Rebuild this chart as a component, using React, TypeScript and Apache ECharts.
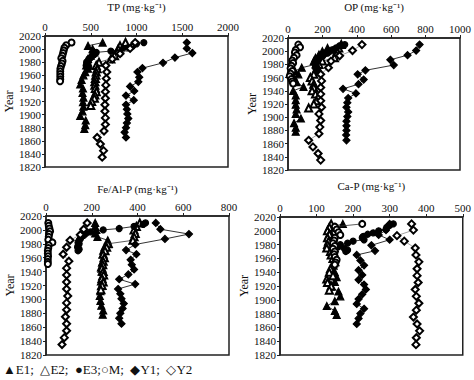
import React, { useEffect, useRef } from "react";
import * as echarts from "echarts";

// Sampling years per core
const yearsE1 = [2010, 2005, 2000, 1995, 1990, 1985, 1980, 1975, 1970, 1965, 1960, 1953, 1946, 1940, 1933, 1926, 1919, 1912, 1905, 1898, 1891, 1884, 1878];
const yearsE2 = [2010, 2005, 2000, 1995, 1990, 1985, 1980, 1975, 1970, 1965, 1960, 1955, 1950, 1945, 1940, 1935, 1930, 1925, 1920, 1914];
const yearsE3 = [2010, 2008, 2005, 2002, 2000, 1997, 1995, 1992, 1990, 1987, 1985, 1982, 1980, 1977, 1975, 1972, 1970];
const yearsM = [2010, 2006, 2002, 1998, 1994, 1990, 1986, 1982, 1978, 1974, 1970, 1966, 1962, 1958, 1954, 1951];
const yearsY1 = [2010, 2001, 1994, 1987, 1979, 1971, 1965, 1957, 1950, 1943, 1936, 1929, 1922, 1915, 1908, 1901, 1894, 1887, 1880, 1873, 1865];
const yearsY2 = [2010, 2001, 1993, 1985, 1975, 1965, 1955, 1945, 1935, 1925, 1915, 1905, 1895, 1885, 1875, 1865, 1855, 1845, 1835];

// TP
const tpE1 = [630, 470, 520, 540, 500, 470, 460, 450, 470, 440, 420, 400, 385, 415, 410, 420, 415, 420, 410, 385, 445, 440, 430];
const tpE2 = [880, 820, 800, 790, 760, 720, 590, 560, 570, 560, 555, 550, 545, 545, 550, 560, 545, 540, 510, 500];
const tpE3 = [1080, 1000, 960, 900, 850, 720, 560, 540, 520, 500, 480, 470, 455, 470, 450, 480, 460];
const tpM = [290, 232, 212, 205, 198, 190, 178, 192, 185, 175, 168, 167, 167, 167, 167, 165];
const tpY1 = [1550, 1550, 1610, 1420, 1290, 1065, 1010, 1030, 1020, 930, 975, 885, 970, 885, 895, 900, 910, 895, 885, 870, 885];
const tpY2 = [985, 930, 820, 735, 665, 675, 670, 665, 660, 660, 655, 655, 660, 660, 645, 570, 605, 640, 625];

// OP
const opE1 = [310, 230, 200, 180, 160, 150, 160, 80, 40, 60, 35, 50, 90, 30, 45, 45, 45, 50, 45, 75, 35, 45, 45];
const opE2 = [310, 295, 285, 280, 270, 200, 180, 170, 165, 150, 130, 140, 150, 150, 140, 160, 175, 165, 150, 120];
const opE3 = [330, 300, 280, 260, 245, 230, 210, 200, 185, 175, 170, 165, 160, 165, 160, 170, 175];
const opM = [60, 70, 45, 40, 50, 35, 25, 30, 20, 15, 25, 15, 10, 20, 25, 30];
const opY1 = [765, 745, 695, 595, 615, 450, 405, 440, 410, 320, 395, 350, 345, 340, 350, 345, 340, 340, 340, 338, 340];
const opY2 = [430, 375, 300, 250, 235, 190, 195, 190, 190, 190, 195, 180, 190, 185, 180, 120, 145, 175, 190];

// Fe/Al-P
const feE1 = [215, 215, 220, 215, 225, 270, 275, 255, 250, 248, 252, 245, 240, 243, 245, 240, 240, 238, 235, 238, 242, 250, 248];
const feE2 = [410, 395, 385, 390, 385, 380, 270, 265, 258, 250, 255, 250, 248, 245, 250, 252, 245, 250, 245, 240];
const feE3 = [435, 425, 385, 320, 250, 195, 175, 165, 155, 150, 145, 140, 145, 140, 138, 145, 140];
const feM = [10, 12, 15, 18, 14, 12, 10, 28, 12, 10, 8, 8, 9, 8, 8, 8];
const feY1 = [480, 500, 625, 520, 390, 350, 395, 370, 375, 385, 360, 320, 390, 315, 325, 330, 340, 335, 325, 320, 330];
const feY2 = [180, 165, 150, 105, 90, 75, 100, 90, 90, 90, 90, 95, 90, 90, 85, 90, 90, 80, 70];

// Ca-P
const caE1 = [172, 140, 135, 140, 138, 145, 150, 150, 148, 145, 150, 148, 140, 150, 155, 150, 140, 160, 165, 150, 128, 150, 155];
const caE2 = [140, 135, 130, 135, 130, 133, 130, 128, 138, 140, 145, 150, 145, 138, 135, 145, 128, 130, 140, 135];
const caE3 = [310, 300, 292, 290, 270, 255, 240, 228, 225, 230, 200, 185, 165, 160, 175, 185, 180];
const caM = [225, 150, 155, 160, 165, 150, 148, 145, 150, 145, 150, 148, 150, 155, 152, 150];
const caY1 = [300, 290, 270, 300, 250, 260, 210, 220, 230, 215, 225, 215, 230, 235, 225, 215, 210, 230, 220, 215, 210];
const caY2 = [360, 365, 320, 340, 370, 372, 380, 375, 375, 378, 370, 373, 380, 373, 365, 375, 382, 373, 372];

const coreNames = ["E1", "E2", "E3", "M", "Y1", "Y2"];
const coreYears = [yearsE1, yearsE2, yearsE3, yearsM, yearsY1, yearsY2];
const panelTitles = ["TP (mg·kg⁻¹)", "OP (mg·kg⁻¹)", "Fe/Al-P (mg·kg⁻¹)", "Ca-P (mg·kg⁻¹)"];
const panelMax = [2000, 1000, 800, 500];
const panelInterval = [500, 200, 200, 100];
const panelValues = [
  [tpE1, tpE2, tpE3, tpM, tpY1, tpY2],
  [opE1, opE2, opE3, opM, opY1, opY2],
  [feE1, feE2, feE3, feM, feY1, feY2],
  [caE1, caE2, caE3, caM, caY1, caY2],
];
const legendText = "▲E1;  △E2;  ●E3;○M;  ◆Y1;  ◇Y2";

const FONT = "'Liberation Serif', 'Times New Roman', serif";

const grids = [
  { left: 45, top: 33, width: 183, height: 134 },
  { left: 288, top: 33, width: 182, height: 137 },
  { left: 46, top: 216, width: 183, height: 139 },
  { left: 280, top: 217, width: 186, height: 138 },
];
const nameGaps = [24, 26, 22, 26];

const symbols = ["triangle", "emptyTriangle", "circle", "emptyCircle", "diamond", "emptyDiamond"];
const symbolSizes = [7, 7, 6, 6, 7, 7];
const lineColors = ["#000", "#333", "#000", "#333", "#000", "#888"];

export default function App() {
  const ref = useRef<HTMLDivElement>(null);
  useEffect(() => {
    if (!ref.current) return;
    const chart = echarts.init(ref.current, undefined, { renderer: "svg" });
    const xAxis: any[] = [];
    const yAxis: any[] = [];
    const series: any[] = [];
    grids.forEach((g, p) => {
      xAxis.push({
        type: "value",
        gridIndex: p,
        position: "top",
        min: 0,
        max: panelMax[p],
        interval: panelInterval[p],
        name: panelTitles[p],
        nameLocation: "middle",
        nameGap: nameGaps[p],
        nameTextStyle: { fontFamily: FONT, fontSize: 11, color: "#111" },
        axisLine: { show: true, lineStyle: { color: "#222", width: 1.5 } },
        axisTick: { show: true, length: 3, lineStyle: { color: "#222" } },
        axisLabel: { fontFamily: FONT, fontSize: 11, color: "#111", margin: 4, formatter: (v: number) => String(v) },
        splitLine: { show: false },
      });
      yAxis.push({
        type: "value",
        gridIndex: p,
        min: 1820,
        max: 2020,
        interval: 20,
        name: "Year",
        nameLocation: "middle",
        nameGap: 30,
        nameRotate: 90,
        nameTextStyle: { fontFamily: FONT, fontSize: 12, color: "#111" },
        axisLine: { show: true, lineStyle: { color: "#222", width: 1.5 } },
        axisTick: { show: true, length: 3, lineStyle: { color: "#222" } },
        axisLabel: { fontFamily: FONT, fontSize: 11, color: "#111", margin: 4, formatter: (v: number) => String(v) },
        splitLine: { show: false },
      });
      panelValues[p].forEach((vals, c) => {
        const yrs = coreYears[c];
        series.push({
          type: "line",
          name: coreNames[c],
          xAxisIndex: p,
          yAxisIndex: p,
          data: vals.map((v, i) => [v, yrs[i]]),
          symbol: symbols[c],
          symbolSize: symbolSizes[c],
          showAllSymbol: true,
          lineStyle: { color: lineColors[c], width: 0.8 },
          itemStyle: { color: "#000", borderColor: "#000", borderWidth: 1.2 },
          z: 2 + c,
        });
      });
    });
    chart.setOption({
      animation: false,
      backgroundColor: "#fff",
      grid: grids.map((g) => ({ ...g, show: true, borderColor: "#222", borderWidth: 1.5, backgroundColor: "transparent" })),
      xAxis,
      yAxis,
      series,
      graphic: [
        {
          type: "text",
          left: 3,
          top: 363,
          style: { text: legendText, font: `13px ${FONT}`, fill: "#111" },
        },
      ],
    });
    return () => chart.dispose();
  }, []);
  return <div ref={ref} style={{ position: "fixed", left: 0, top: 0, width: 474, height: 380 }} />;
}
